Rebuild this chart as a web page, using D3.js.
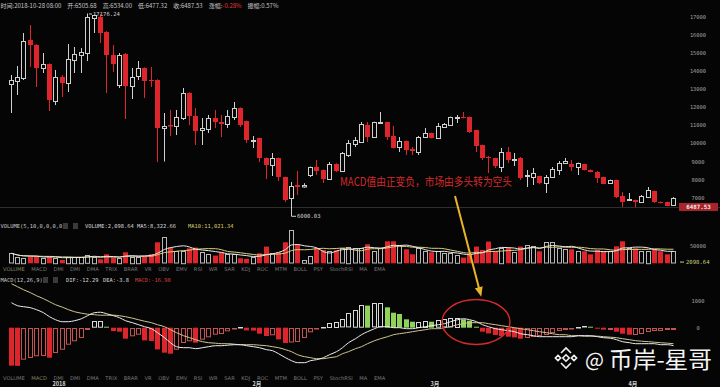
<!DOCTYPE html>
<html><head><meta charset="utf-8">
<script src="https://cdn.jsdelivr.net/npm/d3@7/dist/d3.min.js"></script>
<style>
html,body{margin:0;padding:0;background:#050505;}
svg{display:block;}
</style></head><body>
<svg id="c" width="720" height="387"></svg>
<script>
// ---------------- DATA ----------------
const opens=[13282,13447,13613,15713,15436,14166,14387,12342,13668,13337,
14608,14884,14994,16928,16983,16155,14884,13226,14939,13171,
13724,14166,13503,13503,10851,11017,10961,11403,12784,11514,
10740,10796,11403,11182,11072,11458,11956,11237,10160,10298,
9193,8807,9193,8144,6983,7702,7620,8254,8696,8530,
8033,8862,8475,9359,9967,10077,11017,10354,11127,11182,
10409,9801,10133,9691,9525,10354,10575,10298,10906,11017,
11403,11458,11458,10740,9912,9249,9193,8696,9525,9110,
9193,8230,8144,8199,7812,8144,8530,8917,8862,8696,
8862,8530,8420,8144,7812,7978,7094,6900,6873,6762,
7039,7370,6762,6762,6597];
const highs=[13779,14276,16099,16541,15480,14994,14420,14055,13779,15492,
15326,15271,17176.24,17120,17150,16200,15436,14994,14990,14166,
14552,14200,14221,13540,11679,11845,11845,13061,12820,11956,
11403,11569,11845,11569,11845,12287,11990,11260,10409,10320,
9220,9470,9220,8160,7867,8475,7800,8720,9083,8560,
8972,8900,9525,10188,10354,11182,11182,11200,11735,11200,
10961,10354,10160,9801,10409,10851,10600,11127,11127,11480,
11569,11735,11480,10760,9930,9304,9210,9746,9801,9470,
9249,8530,8641,8220,8254,8696,9028,9193,9083,8940,
8880,8560,8475,8160,8000,8000,7315,7260,6890,7149,
7591,7390,6790,6780,7039];
const lows=[11679,12674,13503,14221,13116,13889,11790,12121,12563,12840,
13889,13889,14552,16099,15547,12784,13944,13061,11348,12453,
13503,12508,13116,8972,9000,10409,10464,11293,11017,9912,
9912,10575,10851,10354,10851,11293,10906,10022,9746,8972,
8033,8199,7923,6762,6000.03,7149,7560,8144,8254,7812,
7978,8420,8420,9249,9801,10022,10077,10298,11100,10188,
9720,9525,9359,9359,9359,10298,10270,10243,10851,10961,
11127,11380,10575,9525,9083,8365,8641,8420,8917,8751,
7978,7591,7702,7757,7260,8120,8254,8862,8475,8254,
8510,8400,7812,7740,7790,6983,6486,6818,6486,6707,
6983,6707,6690,6520,6541];
const closes=[13503,13668,15657,15436,14166,14387,12398,13668,13337,14663,
14939,15050,16983,17094,16099,14884,14387,14884,13171,13668,
14166,13447,13480,10851,10961,10934,11458,12784,11514,10685,
10851,11403,11182,11072,11514,11956,11017,10188,10188,9193,
8807,9193,8144,6873,7646,7591,7700,8696,8475,8033,
8862,8475,9470,10022,10188,11072,10354,11182,11182,10354,
9746,10133,9635,9580,10354,10575,10298,10961,11072,11458,
11458,11403,10630,9856,9193,9220,8751,9525,9083,9138,
8088,8254,8365,7812,8144,8586,8917,9028,8696,8917,
8530,8420,8088,7757,7978,7039,6762,6928,6762,7094,
7425,6762,6707,6541,6983];
const volumes=[28900,19400,16500,19400,19400,16500,19400,16500,9500,19400,
19400,19400,24000,19400,11600,26000,16500,16500,31800,19400,
19400,19400,26000,60700,75100,45400,34700,36700,43300,45400,
31800,26000,22300,31800,26000,26000,14500,12700,19400,28900,
48300,28900,31800,60700,95400,54900,9500,22300,43300,38400,
34700,37600,43300,48300,43300,43300,54900,34700,43300,63600,
63600,52000,40500,26000,43300,34700,31800,34700,28900,28900,
24000,16500,26000,48300,38400,62700,34700,45400,45400,31800,
48300,52000,49100,34700,60700,60700,43300,40500,40500,34700,
34700,26000,38400,34700,34700,49100,63600,43300,43300,34700,
36700,40500,34700,26000,34700];
const difValues=[950,836,798,760,684,570,418,304,228,228,
266,342,456,570,589,532,456,380,266,190,
114,38,-38,-190,-380,-570,-722,-760,-760,-798,
-760,-722,-684,-684,-665,-646,-646,-684,-722,-760,
-836,-874,-988,-1140,-1254,-1330,-1330,-1254,-1216,-1140,
-1026,-912,-760,-570,-418,-266,-152,-38,38,38,
0,0,-38,-38,0,38,76,114,152,228,
304,342,304,228,114,38,-38,-76,-114,-152,
-228,-266,-304,-342,-342,-342,-342,-342,-342,-304,
-304,-304,-342,-380,-399,-456,-532,-570,-608,-608,
-608,-608,-646,-646,-684];
const deaValues=[1672,1558,1444,1330,1216,1102,988,874,779,684,
608,551,513,494,475,475,475,456,418,361,
304,247,190,114,38,-76,-190,-304,-380,-456,
-532,-570,-589,-608,-608,-627,-646,-646,-646,-665,
-684,-722,-760,-836,-912,-1026,-1102,-1140,-1178,-1178,
-1140,-1102,-988,-912,-798,-722,-608,-494,-418,-342,
-266,-228,-190,-152,-114,-76,-38,-38,0,38,
114,152,190,190,190,152,114,76,38,0,
-38,-76,-114,-152,-190,-228,-266,-266,-304,-304,
-323,-323,-323,-342,-361,-380,-418,-456,-494,-513,
-532,-551,-570,-589,-608];
const macdValues=[-1444,-1452,-1205,-1140,-1075,-1064,-1140,-950,-825,-635,
-505,-380,-76,255,255,38,-125,-152,-418,-315,
-255,-483,-505,-825,-950,-988,-825,-570,-505,-570,
-445,-353,-255,-228,-125,-38,38,-103,-110,-228,
-315,-277,-445,-581,-551,-532,-380,-163,-57,19,
190,228,319,547,673,863,840,927,927,775,
570,521,319,228,228,266,228,293,319,357,
380,319,266,38,-152,-217,-277,-319,-342,-369,
-418,-380,-342,-304,-266,-190,-114,-76,-38,38,
57,38,-38,-76,-76,-152,-228,-266,-266,-228,
-152,-114,-114,-76,-76];
const priceTicks=[7000,8000,9000,10000,11000,12000,13000,14000,15000,16000,17000];
const volumeTicks=[50000];
const macdTicks=[0,1000];
const tickDates=[new Date(2018,0,1),new Date(2018,1,1),new Date(2018,2,1),new Date(2018,3,1)];
const tickLabels=["2018","2月","3月","4月"];
const indicatorTabs=["VOLUME","MACD","DMI","DMI","DMA","TRIX","BRAR","VR","OBV","EMV","RSI","WR","SAR","KDJ","ROC","MTM","BOLL","PSY","StochRSI","MA","EMA"];
const currentPrice=6487.53, currentVolume=2098.64;
const headerItems=[["时间:2018-10-28 08:00",""],["开:6505.68",""],["高:6534.00",""],["低:6477.32",""],["收:6487.53",""],["涨幅:","-0.28%"],["振幅:0.57%",""]];
const annotationText="MACD值由正变负，市场由多头转为空头";

// ---------------- LAYOUT ----------------
const W=720,H=387;
const MONO='"DejaVu Sans Mono","Noto Sans CJK SC",monospace';
const CJK='"Noto Sans CJK SC","DejaVu Sans",sans-serif';
const RED="#dd262c", HOL="#d0d0d0", GREEN="#8fd35a";
const svg=d3.select("#c");
svg.append("rect").attr("width",W).attr("height",H).attr("fill","#050505");

const dates=d3.timeDay.range(new Date(2017,11,25),new Date(2018,3,9));
const data=dates.map((d,i)=>({date:d,i,o:opens[i],h:highs[i],l:lows[i],c:closes[i],v:volumes[i],dif:difValues[i],dea:deaValues[i],macd:macdValues[i]}));

const x=d3.scaleBand().domain(dates.map(d=>+d)).range([7.5,676.4]).paddingInner(0.3).paddingOuter(0.15);
const cx=d=>Math.round(x(+d)+x.bandwidth()/2);
const yP=d3.scaleLinear().domain([7000,17000]).range([197.7,16.7]);
const yV=d3.scaleLinear().domain([0,50000]).range([263.3,246]);
const yM=d3.scaleLinear().domain([0,1000]).range([327.7,301.4]);

// current price line
svg.append("line").attr("x1",0).attr("x2",W).attr("y1",Math.round(yP(currentPrice))+0.5).attr("y2",Math.round(yP(currentPrice))+0.5)
  .attr("stroke","#2e2e2e").attr("stroke-width",1);

// ---------------- CANDLES ----------------
const gC=svg.append("g");
const up=d=>d.c>=d.o;
gC.selectAll("line.w").data(data).join("line")
  .attr("x1",d=>cx(d.date)+0.5).attr("x2",d=>cx(d.date)+0.5)
  .attr("y1",d=>yP(d.h)).attr("y2",d=>yP(d.l))
  .attr("stroke",d=>up(d)?HOL:RED).attr("stroke-width",1);
gC.selectAll("rect.b").data(data).join("rect")
  .attr("x",d=>up(d)?cx(d.date)-1.5:cx(d.date)-2)
  .attr("width",d=>up(d)?4:5)
  .attr("y",d=>{const t=yP(Math.max(d.o,d.c));return up(d)?Math.round(t)+0.5:t;})
  .attr("height",d=>Math.max(1,Math.abs(yP(d.o)-yP(d.c))))
  .attr("fill",d=>up(d)?"#050505":RED)
  .attr("stroke",d=>up(d)?HOL:"none").attr("stroke-width",1);

// max / min labels
const maxD=data[d3.maxIndex(data,d=>d.h)], minD=data[d3.minIndex(data,d=>d.l)];
svg.append("line").attr("x1",cx(maxD.date)+2).attr("x2",cx(maxD.date)+5).attr("y1",yP(maxD.h)+0.5).attr("y2",yP(maxD.h)+0.5).attr("stroke","#ccc");
svg.append("text").attr("x",cx(maxD.date)+6).attr("y",yP(maxD.h)+2).attr("font-family",MONO).attr("font-size",5.6).attr("fill","#cfcfcf").text(d3.format(".2f")(maxD.h));
svg.append("path").attr("d",`M${cx(minD.date)+0.5},${yP(minD.l)-4}V${yP(minD.l)+0.5}H${cx(minD.date)+5}`).attr("stroke","#ccc").attr("fill","none");
svg.append("text").attr("x",cx(minD.date)+6).attr("y",yP(minD.l)+2.5).attr("font-family",MONO).attr("font-size",5.6).attr("fill","#cfcfcf").text(d3.format(".2f")(minD.l));

// price axis labels
svg.append("g").selectAll("text").data(priceTicks).join("text")
  .attr("x",698).attr("y",d=>yP(d)+2).attr("text-anchor","middle")
  .attr("font-family",MONO).attr("font-size",5.4).attr("fill","#a0a0a0").text(d=>d);
// current price box
svg.append("rect").attr("x",679).attr("y",yP(currentPrice)-4).attr("width",39).attr("height",8).attr("fill","#a8232a");
svg.append("text").attr("x",698.5).attr("y",yP(currentPrice)+2.2).attr("text-anchor","middle").attr("font-family",MONO).attr("font-size",5.8).attr("font-weight","bold").attr("fill","#f0f0f0").text(currentPrice.toFixed(2));

// header
{
  let hx=0.5;
  const g=svg.append("g").attr("font-family",CJK).attr("font-size",6).attr("fill","#c8c8c8");
  headerItems.forEach(([a,b])=>{
    const t=g.append("text").attr("x",hx).attr("y",8);
    t.append("tspan").text(a);
    if(b) t.append("tspan").attr("fill","#e03a3a").text(b);
    hx+=t.node().getComputedTextLength()+6;
  });
}

// ---------------- VOLUME ----------------
const gV=svg.append("g");
gV.selectAll("rect").data(data).join("rect")
  .attr("x",d=>up(d)?cx(d.date)-1.5:cx(d.date)-2)
  .attr("width",d=>up(d)?4:5)
  .attr("y",d=>up(d)?Math.round(yV(d.v))+0.5:yV(d.v))
  .attr("height",d=>Math.max(1,yV(0)-yV(d.v)-(up(d)?0.5:0)))
  .attr("fill",d=>up(d)?"#050505":RED)
  .attr("stroke",d=>up(d)?"#b8b8b8":"none").attr("stroke-width",1);
const ma=n=>volumes.map((v,i)=>d3.mean(volumes.slice(Math.max(0,i-n+1),i+1)));
const ma5=ma(5), ma10=ma(10);
const lineV=arr=>d3.line().x((d,i)=>cx(dates[i])+0.5).y(d=>yV(d)).curve(d3.curveMonotoneX)(arr);
gV.append("path").attr("d",lineV(ma10)).attr("fill","none").attr("stroke","#d8cf7c").attr("stroke-width",1);
gV.append("path").attr("d",lineV(ma5)).attr("fill","none").attr("stroke","#e8e8e8").attr("stroke-width",1);
svg.append("g").selectAll("text").data(volumeTicks).join("text").attr("x",698).attr("y",d=>yV(d)+2).attr("text-anchor","middle").attr("font-family",MONO).attr("font-size",5.4).attr("fill","#a0a0a0").text(d=>d);
svg.append("line").attr("x1",680).attr("x2",684).attr("y1",yV(currentVolume)-0.5).attr("y2",yV(currentVolume)-0.5).attr("stroke","#c8d07a");
svg.append("text").attr("x",686).attr("y",yV(currentVolume)+1.5).attr("font-family",MONO).attr("font-size",5.6).attr("fill","#c8d07a").text(currentVolume.toFixed(2));

// volume header
{
  const g=svg.append("g").attr("font-family",MONO).attr("font-size",5.4);
  g.append("text").attr("x",0.5).attr("y",228).attr("fill","#c8c8c8").text("VOLUME(5,10,0,0,0,0)");
  g.append("rect").attr("x",63).attr("y",223).attr("width",5).attr("height",6).attr("fill","#3a3a3a");
  g.append("rect").attr("x",73).attr("y",223).attr("width",5).attr("height",6).attr("fill","#3a3a3a");
  g.append("text").attr("x",85).attr("y",228).attr("fill","#d8d8d8").text("VOLUME:"+d3.format(",.2f")(currentVolume));
  g.append("text").attr("x",137).attr("y",228).attr("fill","#d8d8d8").text("MA5:8,322.66");
  g.append("text").attr("x",188).attr("y",228).attr("fill","#d8cf6c").text("MA10:11,021.34");
}

// tabs
function tabs(y,hl){
  const g=svg.append("g").attr("font-family",'"DejaVu Sans",sans-serif').attr("font-size",5.2);
  let tx=3;
  indicatorTabs.forEach((t,i)=>{
    const e=g.append("text").attr("x",tx).attr("y",y).attr("fill",i===hl?"#8a8660":"#7a7a7a").text(t);
    tx+=e.node().getComputedTextLength()+6.6;
  });
}
tabs(271,0);
tabs(380,1);

// ---------------- MACD ----------------
const gM=svg.append("g");
gM.selectAll("rect").data(data).join("rect")
  .each(function(d,i){
    const prev=i>0?data[i-1].macd:0;
    const pos=d.macd>=0;
    const filled=d.macd<prev;
    const y0=yM(0), y1=yM(d.macd);
    const top=Math.min(y0,y1), h=Math.max(1,Math.abs(y1-y0));
    const s=d3.select(this);
    const col=pos?(filled?GREEN:"#d8d8d8"):(filled?RED:"#c45454");
    if(filled){
      s.attr("x",cx(d.date)-2).attr("width",5).attr("y",top).attr("height",h).attr("fill",col).attr("stroke","none");
    } else {
      s.attr("x",cx(d.date)-1.5).attr("width",4).attr("y",Math.round(top)+0.5).attr("height",Math.max(0.5,h-1)).attr("fill","#050505").attr("stroke",col).attr("stroke-width",1);
    }
  });
const lineM=key=>d3.line().x(d=>cx(d.date)+0.5).y(d=>yM(d[key])).curve(d3.curveMonotoneX)(data);
gM.append("path").attr("d",lineM("dea")).attr("fill","none").attr("stroke","#cfc591").attr("stroke-width",1);
gM.append("path").attr("d",lineM("dif")).attr("fill","none").attr("stroke","#ececec").attr("stroke-width",1);
svg.append("g").selectAll("text").data(macdTicks).join("text").attr("x",698).attr("y",d=>yM(d)+2).attr("text-anchor","middle").attr("font-family",MONO).attr("font-size",5.4).attr("fill","#a0a0a0").text(d=>d);
{
  const g=svg.append("g").attr("font-family",MONO).attr("font-size",5.4);
  g.append("text").attr("x",0.5).attr("y",282).attr("fill","#c8c8c8").text("MACD(12,26,9)");
  g.append("rect").attr("x",43).attr("y",277).attr("width",5).attr("height",6).attr("fill","#3a3a3a");
  g.append("rect").attr("x",53).attr("y",277).attr("width",5).attr("height",6).attr("fill","#3a3a3a");
  g.append("text").attr("x",66).attr("y",282).attr("fill","#d8d8d8").text("DIF:-12.29");
  g.append("text").attr("x",103).attr("y",282).attr("fill","#d8d8d8").text("DEA:-3.8");
  g.append("text").attr("x",135).attr("y",282).attr("fill","#d84040").text("MACD:-16.98");
}

// date axis
svg.append("g").selectAll("text").data(tickDates).join("text")
  .attr("x",(d,i)=>cx(d)+4).attr("y",386).attr("text-anchor","middle")
  .attr("font-family",CJK).attr("font-size",5.6).attr("font-weight","bold").attr("fill","#cfcfcf")
  .text((d,i)=>tickLabels[i]);

// ---------------- ANNOTATIONS ----------------
svg.append("text").attr("x",340).attr("y",186).attr("font-family",CJK).attr("font-size",11.5)
  .attr("fill","#d42a2a").attr("textLength",172).attr("lengthAdjust","spacingAndGlyphs").text(annotationText);
svg.append("defs").append("marker").attr("id","ah").attr("viewBox","0 0 10 10").attr("refX",5).attr("refY",5)
  .attr("markerWidth",5).attr("markerHeight",5).attr("orient","auto")
  .append("path").attr("d","M0,1L10,5L0,9Z").attr("fill","#eab42a");
svg.append("line").attr("x1",455).attr("y1",196).attr("x2",480).attr("y2",292)
  .attr("stroke","#eab42a").attr("stroke-width",2).attr("marker-end","url(#ah)");
svg.append("ellipse").attr("cx",476).attr("cy",322).attr("rx",34).attr("ry",22.5)
  .attr("fill","none").attr("stroke","#d42a2a").attr("stroke-width",1.4);

// watermark
{
  const g=svg.append("g").attr("transform","translate(566,358)").attr("fill","none").attr("stroke","#f2f2f2").attr("stroke-width",1.6);
  const dia=(x0,y0,r)=>`M${x0},${y0-r}L${x0+r},${y0}L${x0},${y0+r}L${x0-r},${y0}Z`;
  g.append("path").attr("d",dia(0,0,3.2));
  g.append("path").attr("d",dia(-8,0,2.6));
  g.append("path").attr("d",dia(8,0,2.6));
  g.append("path").attr("d","M-5,-5L0,-10L5,-5M-5,5L0,10L5,5");
  svg.append("text").attr("x",585).attr("y",367).attr("font-family",CJK).attr("font-size",20).attr("fill","#f4f4f4").text("@");
  svg.append("text").attr("x",609).attr("y",368).attr("font-family",CJK).attr("font-size",23).attr("fill","#f4f4f4")
    .attr("textLength",103).attr("lengthAdjust","spacingAndGlyphs").text("币岸-星哥");
}
</script>
</body></html>
